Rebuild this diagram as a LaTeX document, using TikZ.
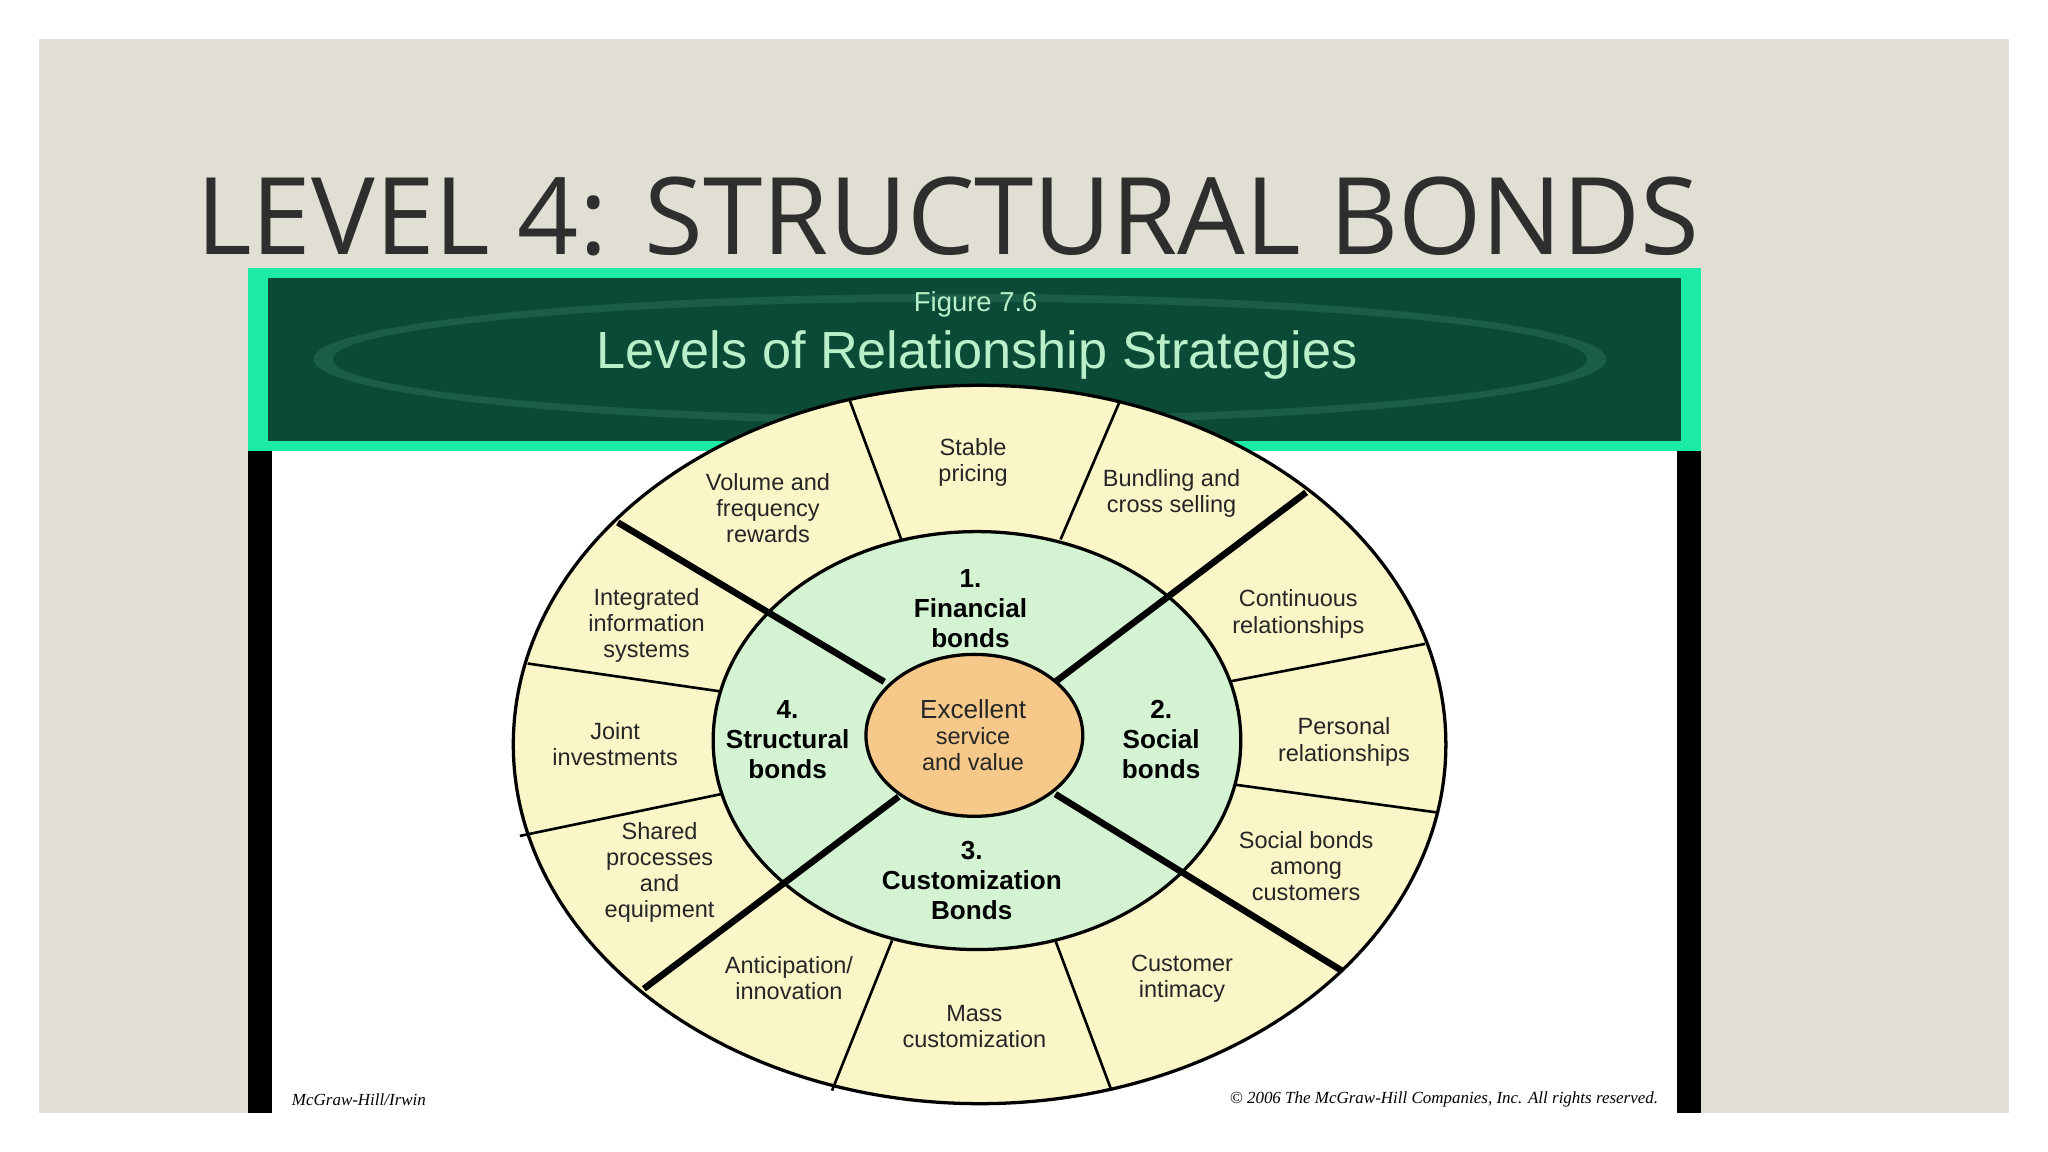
\documentclass[tikz,border=0pt]{standalone}
\usepackage{fontspec}
\setmainfont{Liberation Sans}
\newfontfamily\titlefont{Open Sans}
\newfontfamily\serifit{Liberation Serif}
\definecolor{bg}{HTML}{E1DED3}
\definecolor{hdr}{HTML}{0B4A37}
\definecolor{hdrl}{HTML}{1B5E48}
\definecolor{bright}{HTML}{1CEBA8}
\definecolor{yel}{HTML}{FBF6C8}
\definecolor{grn}{HTML}{D3F3D3}
\definecolor{org}{HTML}{F6C98A}
\definecolor{htxt}{HTML}{B9F0C9}
\tikzset{
  lab/.style={align=center,font=\fontsize{18}{20}\selectfont,text=black!85},
  blab/.style={align=center,font=\fontsize{20}{23}\selectfont\bfseries,text=black},
  thick line/.style={line width=5pt},
  thin line/.style={line width=2pt}
}
\begin{document}
\begin{tikzpicture}[x=1pt,y=-1pt]
\useasboundingbox (0,0) rectangle (1568,882);
\fill[white] (0,0) rectangle (1568,882);
\fill[bg] (30,30) rectangle (1538,852);
\node[anchor=base west,inner sep=0,text=black!82,font=\titlefont\fontsize{82}{90}\selectfont] (title) at (150,195) {LEVEL 4: STRUCTURAL BONDS};
% figure frame
\fill[black] (190,205) rectangle (1302,852);
\fill[white] (208,345) rectangle (1284,852);
\fill[bright] (190,205) rectangle (1302,345);
\fill[hdr] (205,213) rectangle (1287,338);
\fill[hdrl] (735,275) ellipse [x radius=495, y radius=50];
\fill[hdr] (735,275) ellipse [x radius=480, y radius=44];
\node[text=htxt,font=\fontsize{21}{24}\selectfont] (fig) at (747,233) {Figure 7.6};
\node[text=htxt,font=\fontsize{40}{44}\selectfont] (htitle) at (748,272) {Levels of Relationship Strategies};
% ellipses
\draw[fill=yel,line width=2.5pt] (750,570) ellipse [x radius=357, y radius=275];
% thin dividers
\draw[thin line] (690,413) -- (650,305);
\draw[thin line] (812,413) -- (857,308);
\draw[thin line] (935,523) -- (1091,493);
\draw[thin line] (940,600) -- (1100,622);
\draw[thin line] (808,720) -- (851,835);
\draw[thin line] (683,720) -- (637,835);
\draw[thin line] (556,530) -- (404,508);
\draw[thin line] (552,608) -- (398,640);
\draw[fill=grn,line width=2.5pt] (748,567) ellipse [x radius=202, y radius=160];
% thick dividers
\draw[thick line] (677,522) -- (473,400);
\draw[thick line] (808,522) -- (1000,377);
\draw[thick line] (808,608) -- (1027,743);
\draw[thick line] (688,610) -- (493,757);
\draw[fill=org,line width=2.5pt] (746,563) ellipse [x radius=83, y radius=62];
% labels
\node[lab] (c) at (745,563) {\fontsize{20}{23}\selectfont Excellent\\service\\and value};
\node[blab] (b1) at (743,466) {1.\\Financial\\bonds};
\node[blab] (b2) at (889,566) {2.\\Social\\bonds};
\node[blab] (b3) at (744,674) {3.\\Customization\\Bonds};
\node[blab] (b4) at (603,566) {4.\\Structural\\bonds};
\node[lab] (l1) at (745,354) {Stable\\pricing};
\node[lab] (l2) at (588,389) {Volume and\\frequency\\rewards};
\node[lab] (l3) at (897,378) {Bundling and\\cross selling};
\node[lab] (l4) at (994,470) {Continuous\\relationships};
\node[lab] (l5) at (1029,568) {Personal\\relationships};
\node[lab] (l6) at (1000,663) {Social bonds\\among\\customers};
\node[lab] (l7) at (905,749) {Customer\\intimacy};
\node[lab] (l8) at (746,786) {Mass\\customization};
\node[lab] (l9) at (604,749) {Anticipation/\\innovation};
\node[lab] (l10) at (505,668) {Shared\\processes\\and\\equipment};
\node[lab] (l11) at (471,570) {Joint\\investments};
\node[lab] (l12) at (495,479) {Integrated\\information\\systems};
\node[anchor=west,font=\serifit\itshape\fontsize{13}{15}\selectfont] (f1) at (220,842) {McGraw-Hill/Irwin};
\node[anchor=east,font=\serifit\itshape\fontsize{13}{15}\selectfont] (f2) at (1273,842) {\textcopyright\ 2006 The McGraw-Hill Companies, Inc. All rights reserved.};
\end{tikzpicture}
\end{document}
